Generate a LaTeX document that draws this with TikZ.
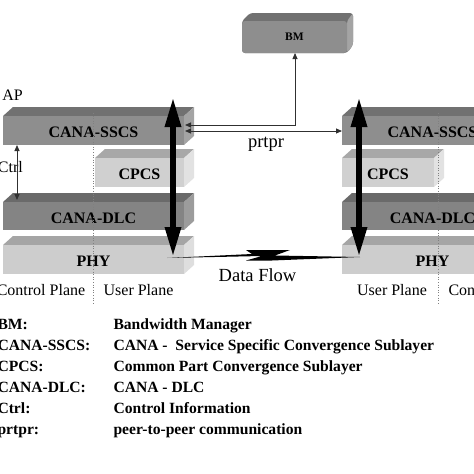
\documentclass[tikz,border=0pt]{standalone}
\usepackage{fontspec}
\setmainfont{Liberation Serif}
\usetikzlibrary{arrows.meta}
\definecolor{sscsF}{HTML}{8E8E8E}
\definecolor{sscsT}{HTML}{717171}
\definecolor{sscsS}{HTML}{A4A4A4}
\definecolor{cpcsF}{HTML}{D0D0D0}
\definecolor{cpcsT}{HTML}{A8A8A8}
\definecolor{cpcsS}{HTML}{E2E2E2}
\definecolor{dlcF}{HTML}{848484}
\definecolor{dlcT}{HTML}{6A6A6A}
\definecolor{dlcS}{HTML}{9C9C9C}
\definecolor{phyF}{HTML}{CDCDCD}
\definecolor{phyT}{HTML}{A5A5A5}
\definecolor{phyS}{HTML}{DEDEDE}
\definecolor{lineG}{HTML}{303030}
\newcommand\layerbox[9]{%
  % #1 name, #2 x1, #3 y1, #4 x2, #5 y2, #6 front, #7 top, #8 side, #9 text
  \fill[#7] (#2,#3) -- ++(10,-9) -- (#4+10,#3-9) -- (#4,#3) -- cycle;
  \fill[#8] (#4,#3) -- ++(10,-9) -- (#4+10,#5-9) -- (#4,#5) -- cycle;
  \node[boxface,fill=#6,minimum width=#4-#2,minimum height=#5-#3] (#1) at ({(#2+#4)/2},{(#3+#5)/2}) {};
  \node[boxtext] at ({(#2+#4)/2},{(#3+#5)/2+2}) {#9};
}
\begin{document}
\begin{tikzpicture}[x=1pt,y=-1pt,
  boxface/.style={rectangle,inner sep=0pt,outer sep=0pt,draw=none},
  boxtext/.style={font=\fontsize{16}{19}\selectfont\bfseries},
  lbl/.style={font=\fontsize{16}{19}\selectfont},
  biglbl/.style={font=\fontsize{18.5}{22}\selectfont},
  legend/.style={font=\fontsize{15.6}{19}\selectfont\bfseries,anchor=base west},
  bigarrow/.style={line width=6pt,{Triangle[length=30pt,width=15pt]}-{Triangle[length=30pt,width=15pt]}},
  thinarrow/.style={line width=0.8pt,lineG,{Triangle[length=6pt,width=5pt]}-{Triangle[length=6pt,width=5pt]}},
  planeline/.style={gray,line width=0.6pt,dotted}
]
\useasboundingbox (0,0) rectangle (474,474);
\clip (0,0) rectangle (474,474);

% BM box
\fill[sscsT,rounded corners=3pt] (242,21) -- (250,13) -- (353,13) -- (353,45) -- (347,53) -- (242,53) -- cycle;
\fill[sscsS,rounded corners=3pt] (347,21) -- (353,13) -- (353,45) -- (347,53) -- cycle;
\node[boxface,fill=sscsF,rounded corners=3pt,minimum width=105,minimum height=32] (bm) at (294.5,37) {};
\node[font=\fontsize{11.5}{13}\selectfont\bfseries] at (294.5,37) {BM};

% left stack
\layerbox{lsscs}{3}{116}{184}{145}{sscsF}{sscsT}{sscsS}{CANA-SSCS}
\layerbox{lcpcs}{95}{158}{184}{187}{cpcsF}{cpcsT}{cpcsS}{CPCS}
\layerbox{ldlc}{3}{202}{184}{230}{dlcF}{dlcT}{dlcS}{CANA-DLC}
\layerbox{lphy}{3}{245}{184}{274}{phyF}{phyT}{phyS}{PHY}

% right stack
\layerbox{rsscs}{342}{116}{523}{145}{sscsF}{sscsT}{sscsS}{CANA-SSCS}
\layerbox{rcpcs}{342}{158}{434}{187}{cpcsF}{cpcsT}{cpcsS}{CPCS}
\layerbox{rdlc}{342}{202}{523}{230}{dlcF}{dlcT}{dlcS}{CANA-DLC}
\layerbox{rphy}{342}{245}{523}{274}{phyF}{phyT}{phyS}{PHY}

% plane separators
\coordinate (lpt) at (93,113); \coordinate (lpb) at (93,304);
\coordinate (rpt) at (438,113); \coordinate (rpb) at (438,304);
\draw[planeline] (lpt) -- (lpb);
\draw[planeline] (rpt) -- (rpb);

% plane labels
\node[lbl,anchor=base] at (41,295) {Control Plane};
\node[lbl,anchor=base] at (138.5,295) {User Plane};
\node[lbl,anchor=base] at (392,295) {User Plane};
\node[lbl,anchor=base west] at (445,295) {Control Plane};

% AP and Ctrl
\node[lbl,anchor=base east,inner sep=0pt] (ap) at (23,100) {AP};
\node[lbl,anchor=base east,inner sep=0pt] (ctrl) at (23,172) {Ctrl};
\coordinate (ctrlt) at (17,145);
\coordinate (ctrlb) at (17,200);
\draw[thinarrow] (ctrlt) -- (ctrlb);

% big data arrows
\coordinate (la1) at (173,97); \coordinate (la2) at (173,257);
\coordinate (ra1) at (359,97); \coordinate (ra2) at (359,257);
\draw[bigarrow] (la1) -- (la2);
\draw[bigarrow] (ra1) -- (ra2);

% BM connection and prtpr
\coordinate (bmc) at (295,125);
\coordinate (lsu) at (185,125);
\coordinate (lsl) at (185,131);
\coordinate (rsl) at (342,131);
\draw[thinarrow] (lsu) -- (bmc) -- (bm.south -| bmc);
\draw[thinarrow] (lsl) -- (rsl);
\node[biglbl,anchor=base] at (266,147) {prtpr};

% data flow lightning
\coordinate (dfl) at (167,258);
\coordinate (dfr) at (360,257);
\fill[black] (dfl) -- (252,254) -- (246,250) -- (290,250) -- (275,255.5) -- (dfr) -- (272,260.5) -- (246,260.5) -- (262,256) -- cycle;
\node[biglbl,anchor=base] at (257.5,281) {Data Flow};

% legend
\node[legend] at (-6,329) {BM:};
\node[legend] at (110,329) {Bandwidth Manager};
\node[legend] at (-6,350) {CANA-SSCS:};
\node[legend] at (110,350) {CANA -\ \ Service Specific Convergence Sublayer};
\node[legend] at (-6,371) {CPCS:};
\node[legend] at (110,371) {Common Part Convergence Sublayer};
\node[legend] at (-6,392) {CANA-DLC:};
\node[legend] at (110,392) {CANA - DLC};
\node[legend] at (-6,413) {Ctrl:};
\node[legend] at (110,413) {Control Information};
\node[legend] at (-6,434) {prtpr:};
\node[legend] at (110,434) {peer-to-peer communication};
\end{tikzpicture}
\end{document}
